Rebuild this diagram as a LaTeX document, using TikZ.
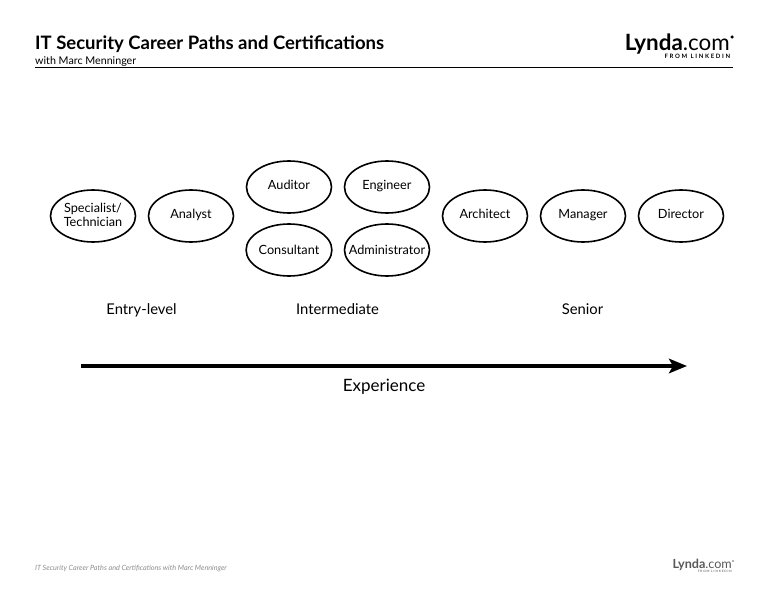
\documentclass[tikz,border=0pt]{standalone}
\usepackage{fontspec}
\setmainfont{Lato}
\usetikzlibrary{positioning,shapes,arrows.meta}

\begin{document}
\begin{tikzpicture}[x=1pt, y=-1pt,
    role/.style={ellipse, draw, line width=1.6pt, minimum width=85pt, minimum height=52pt, inner sep=0pt, align=center, text height=9pt, text depth=4pt, font=\fontsize{12.7}{14}\selectfont},
    lowrole/.style={role, text height=11pt, text depth=2pt},
    level/.style={anchor=base, inner sep=0pt, font=\fontsize{14.8}{17}\selectfont},
    arrow/.style={-{Stealth[length=18pt, width=14.5pt, inset=4pt]}, line width=4.8pt},
    logobig/.style={inner sep=0pt, anchor=base east, font=\fontsize{#1}{#1}\selectfont},
    logosmall/.style={inner sep=0pt, anchor=base east, font=\fontsize{#1}{#1}\selectfont\bfseries\addfontfeature{LetterSpace=28}}]
    \useasboundingbox (0,0) rectangle (768,594);

    % Header
    \node[anchor=base west, inner sep=0pt, font=\fontsize{18.5}{20}\selectfont\bfseries] (title) at (35,49) {IT Security Career Paths and Certifications};
    \node[anchor=base west, inner sep=0pt, font=\fontsize{10.7}{12}\selectfont] (author) at (35,64) {with Marc Menninger};
    \coordinate (ruleleft) at (35,67.5);
    \coordinate (ruleright) at (733,67.5);
    \draw[line width=0.9pt] (ruleleft) -- (ruleright);

    % Logo
    \node[logobig=22.4] (logo) at (730,51) {\textbf{Lynda}.com};
    \node[circle, fill=black, inner sep=0pt, minimum size=3.5pt] (logodot) at (732,37) {};
    \node[logosmall=6] (logosub) at (730.5,59) {FROM LINKEDIN};

    % Entry-level
    \node[role, text height=23pt, text depth=2pt] (specialist) at (93,216) {Specialist/\\Technician};
    \node[role] (analyst) at (191,216) {Analyst};

    % Intermediate
    \node[role] (auditor) at (289,187) {Auditor};
    \node[role] (engineer) at (387,187) {Engineer};
    \node[lowrole] (consultant) at (289,250) {Consultant};
    \node[lowrole] (administrator) at (387,250) {\makebox[30pt][c]{Administrator}};

    % Senior
    \node[role] (architect) at (485,216) {Architect};
    \node[role] (manager) at (583,216) {Manager};
    \node[role] (director) at (681,216) {Director};

    % Levels
    \node[level] (entry) at (141.5,314) {Entry-level};
    \node[level] (intermediate) at (337.5,314) {Intermediate};
    \node[level] (senior) at (582.5,314) {Senior};

    % Experience
    \coordinate (start) at (81,366);
    \coordinate (end) at (687,366);
    \draw[arrow] (start) -- (end);
    \node[anchor=base, inner sep=0pt, font=\fontsize{17}{19}\selectfont] (experience) at (384,391.5) {Experience};

    % Footer
    \node[anchor=base west, inner sep=0pt, text=black!45, font=\fontsize{7.2}{8}\selectfont\itshape] (footer) at (35,570) {IT Security Career Paths and Certifications with Marc Menninger};
    \node[logobig=12.6, text=black!65] (footlogo) at (732,568.5) {\textbf{Lynda}.com};
    \node[circle, fill=black!60, inner sep=0pt, minimum size=1.8pt] (footdot) at (733,561) {};
    \node[logosmall=3.1, text=black!55] (footsub) at (732,572.5) {FROM LINKEDIN};
\end{tikzpicture}
\end{document}
